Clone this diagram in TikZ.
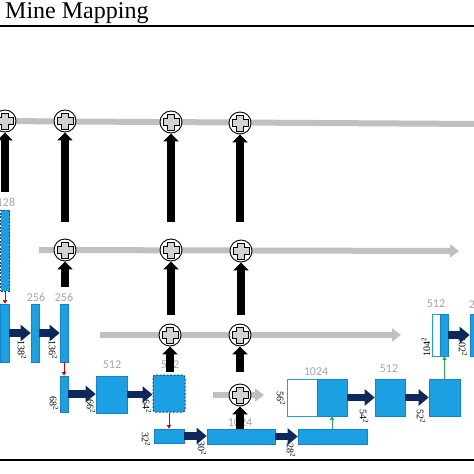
\documentclass[tikz,border=0pt]{standalone}
\usepackage{fontspec}
\setmainfont{Liberation Serif}
\newfontfamily\numfont{Carlito}
\usetikzlibrary{arrows.meta}
\definecolor{bl}{RGB}{28,160,228}
\definecolor{bld}{RGB}{20,130,205}
\definecolor{dnav}{RGB}{25,70,130}
\definecolor{navy}{RGB}{14,40,92}
\definecolor{skip}{RGB}{192,192,192}
\definecolor{lab}{RGB}{166,166,166}
\definecolor{grn}{RGB}{40,170,70}
\tikzset{
  blu/.style={fill=bl, draw=bld, line width=0.6pt},
  wht/.style={fill=white, draw=bl, line width=0.8pt},
  dashbox/.style={fill=bl, draw=dnav, line width=1pt, dash pattern=on 2pt off 1.5pt},
  skiparrow/.style={draw=skip, line width=6pt, -{Triangle[length=9pt,width=13pt]}},
  skipline/.style={draw=skip, line width=6pt},
  uparrow/.style={draw=black, line width=8pt, -{Triangle[length=8pt,width=15pt]}},
  navarrow/.style={draw=navy, line width=7.5pt, -{Triangle[length=10pt,width=16pt]}},
  redarrow/.style={draw=red!85!black, line width=1pt, -{Triangle[length=3.5pt,width=4pt]}},
  grnarrow/.style={draw=grn, line width=1pt, -{Triangle[length=3.5pt,width=4pt]}},
  gnum/.style={text=lab, font=\numfont\fontsize{12}{12}\selectfont, inner sep=0pt},
  dim/.style={font=\fontsize{10}{10}\selectfont, inner sep=0pt, rotate=-90},
  dimup/.style={font=\fontsize{10}{10}\selectfont, inner sep=0pt, rotate=90},
  plusnode/.style={circle, minimum size=22pt, inner sep=0pt, draw=black, line width=0.9pt, fill=white,
    path picture={
      \begin{scope}[shift={(path picture bounding box.center)}]
        \draw[fill=gray!35, line width=0.7pt] (-3.5,-8) -- (3.5,-8) -- (3.5,-3.5) -- (8,-3.5) -- (8,3.5) -- (3.5,3.5) -- (3.5,8) -- (-3.5,8) -- (-3.5,3.5) -- (-8,3.5) -- (-8,-3.5) -- (-3.5,-3.5) -- cycle;
      \end{scope}
    }},
}
\begin{document}
\begin{tikzpicture}[x=1pt,y=-1pt]
\useasboundingbox (0,0) rectangle (474,474);
\fill[white] (0,0) rectangle (474,474);

% title
\node[anchor=base west, inner sep=0pt, font=\fontsize{24}{24}\selectfont] (title) at (5,18.5) {Mine Mapping};
\coordinate (tl) at (0,26); \coordinate (tr) at (474,26);
\draw[line width=1.5pt] (tl) -- (tr);
\coordinate (bl1) at (0,460); \coordinate (br1) at (474,460);
\draw[line width=2pt] (bl1) -- (br1);

% skip connections (gray)
\coordinate (g1s) at (-5,121); \coordinate (g1e) at (480,124);
\draw[skipline] (g1s) -- (g1e);
\coordinate (g2s) at (39,250); \coordinate (g2e) at (459,251);
\draw[skiparrow] (g2s) -- (g2e);
\coordinate (g3s) at (100,335); \coordinate (g3e) at (401,335);
\draw[skiparrow] (g3s) -- (g3e);
\coordinate (g4s) at (213,395); \coordinate (g4e) at (264,395);
\draw[skiparrow] (g4s) -- (g4e);

% circles
\node[plusnode] (c1) at (5,121) {};
\node[plusnode] (c2) at (65,121) {};
\node[plusnode] (c3) at (171,122) {};
\node[plusnode] (c4) at (240,123) {};
\node[plusnode] (c5) at (65,250) {};
\node[plusnode] (c6) at (171,250) {};
\node[plusnode] (c7) at (241,251) {};
\node[plusnode] (c8) at (170,335) {};
\node[plusnode] (c9) at (240,335) {};
\node[plusnode] (c10) at (240,395) {};

% gray size labels
\node[gnum] (l128) at (6,202) {128};
\node[gnum] (l256a) at (36,297) {256};
\node[gnum] (l256b) at (64,297) {256};
\node[gnum] (l512a) at (112,365) {512};
\node[gnum] (l512b) at (170,365) {512};
\node[gnum] (l1024a) at (240,423) {1024};
\node[gnum] (l1024b) at (316,372) {1024};
\node[gnum] (l512c) at (389,369) {512};
\node[gnum] (l512d) at (436,304) {512};
\node[gnum] (l256c) at (478,304) {256};

% encoder boxes
\node[dashbox, minimum width=9pt, minimum height=81pt, inner sep=0pt] (d128) at (5,250.5) {};
\node[blu, minimum width=9pt, minimum height=58pt, inner sep=0pt] (b1) at (4.5,333) {};
\node[blu, minimum width=8pt, minimum height=58pt, inner sep=0pt] (b2) at (35,333) {};
\node[blu, minimum width=8pt, minimum height=58pt, inner sep=0pt] (b3) at (64,333) {};
\node[blu, minimum width=8pt, minimum height=36pt, inner sep=0pt] (b4) at (64,394) {};
\node[blu, minimum width=31pt, minimum height=37pt, inner sep=0pt] (b5) at (111.5,394.5) {};
\node[dashbox, rounded corners=2.5pt, minimum width=32pt, minimum height=37pt, inner sep=0pt] (b6) at (169,393.5) {};
\node[blu, minimum width=30pt, minimum height=14pt, inner sep=0pt] (b7) at (169,436) {};
\node[blu, minimum width=68pt, minimum height=15pt, inner sep=0pt] (b8) at (241,436.5) {};
\node[blu, minimum width=69pt, minimum height=15pt, inner sep=0pt] (b9) at (332.5,436.5) {};
% decoder boxes
\node[wht, minimum width=30pt, minimum height=37pt, inner sep=0pt] (b10w) at (302,397.5) {};
\node[blu, minimum width=30pt, minimum height=37pt, inner sep=0pt] (b10b) at (332,397.5) {};
\node[blu, minimum width=30pt, minimum height=37pt, inner sep=0pt] (b11) at (390,397.5) {};
\node[blu, minimum width=31pt, minimum height=37pt, inner sep=0pt] (b12) at (444.5,397.5) {};
\node[wht, minimum width=8pt, minimum height=42pt, inner sep=0pt] (b13w) at (436,335) {};
\node[blu, minimum width=8pt, minimum height=42pt, inner sep=0pt] (b13b) at (444,335) {};
\node[blu, minimum width=10pt, minimum height=42pt, inner sep=0pt] (b14) at (475,335) {};

% rotated dimension labels
\node[dim] (t138) at (22,350) {138\textsuperscript{2}};
\node[dim] (t136) at (53,350) {136\textsuperscript{2}};
\node[dim] (t68) at (54,403) {68\textsuperscript{2}};
\node[dim] (t66) at (91,406) {66\textsuperscript{2}};
\node[dim] (t64) at (147,406) {64\textsuperscript{2}};
\node[dim] (t32) at (146,439) {32\textsuperscript{2}};
\node[dim] (t30) at (202,448) {30\textsuperscript{2}};
\node[dim] (t28) at (291,450) {28\textsuperscript{2}};
\node[dim] (t56) at (281,398) {56\textsuperscript{2}};
\node[dim] (t54) at (364,416) {54\textsuperscript{2}};
\node[dim] (t52) at (421,416) {52\textsuperscript{2}};
\node[dimup] (t104) at (426,347) {104\textsuperscript{2}};
\node[dim] (t102) at (463,347) {102\textsuperscript{2}};

% navy arrows
\draw[navarrow] (b1.east) -- (b2.west);
\draw[navarrow] (b2.east) -- (b3.west);
\draw[navarrow] (b4.east) -- (b5.west |- b4.east);
\draw[navarrow] (b5.east) -- (b6.west |- b5.east);
\draw[navarrow] (b7.east) -- (b8.west |- b7.east);
\draw[navarrow] (b8.east) -- (b9.west |- b8.east);
\draw[navarrow] (b10b.east) -- (b11.west);
\draw[navarrow] (b11.east) -- (b12.west);
\draw[navarrow] (b13b.east) -- (b14.west);

% red and green arrows
\draw[redarrow] (d128.south) -- (b1.north -| d128.south);
\draw[redarrow] (b3.south) -- (b4.north);
\draw[redarrow] (b6.south) -- (b7.north -| b6.south);
\draw[grnarrow] (b10b.south |- b9.north) -- (b10b.south);
\draw[grnarrow] (b12.north) -- (b12.north |- b13b.south);

% black arrows up into the adders
\coordinate (k1) at (5,192);
\coordinate (k2) at (65,222);
\coordinate (k3) at (171,222);
\coordinate (k4) at (240,222);
\coordinate (k5) at (65,287);
\coordinate (k6) at (171,315);
\coordinate (k7) at (241,315);
\coordinate (k8) at (170,372);
\coordinate (k9) at (240,372);
\draw[uparrow] (k1) -- (c1.south);
\draw[uparrow] (k2) -- (c2.south);
\draw[uparrow] (k3) -- (c3.south);
\draw[uparrow] (k4) -- (c4.south);
\draw[uparrow] (k5) -- (c5.south);
\draw[uparrow] (k6) -- (c6.south);
\draw[uparrow] (k7) -- (c7.south);
\draw[uparrow] (k8) -- (c8.south);
\draw[uparrow] (k9) -- (c9.south);
\draw[uparrow] (c10.south |- b8.north) -- (c10.south);
\end{tikzpicture}
\end{document}
